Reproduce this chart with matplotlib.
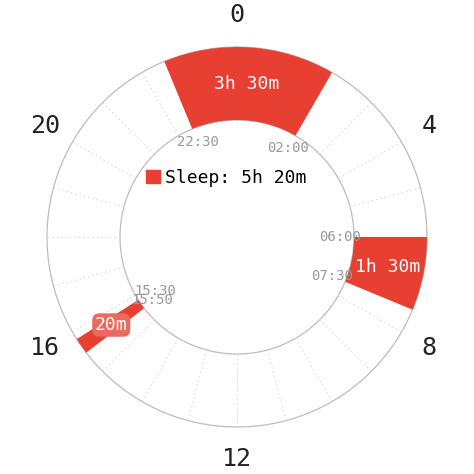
import numpy as np
import matplotlib
matplotlib.use("Agg")
import matplotlib.pyplot as plt
from matplotlib.patches import Patch

# sleep sessions (24h clock)
starts = ["22:30", "06:00", "15:30"]
ends = ["02:00", "07:30", "15:50"]
hour_ticks = [0, 4, 8, 12, 16, 20]
legend_name = "Sleep"

RED = "#e74032"
MONO = "DejaVu Sans Mono"
R_IN, R_OUT, R_LAB, R_TIME = 117, 190, 222, 103


def to_min(s):
    h, m = s.split(":")
    return int(h) * 60 + int(m)


def fmt_dur(m):
    h, mm = divmod(m, 60)
    return f"{h}h {mm}m" if h else f"{mm}m"


def ang(minutes):
    return np.deg2rad(minutes / 1440 * 360)


fig = plt.figure(figsize=(4.74, 4.74), dpi=100)
ax = fig.add_axes([0, 0, 1, 1], projection="polar")
ax.set_theta_zero_location("N")
ax.set_theta_direction(-1)
ax.set_ylim(0, 237)
ax.grid(False)
ax.set_xticks([])
ax.set_yticks([])
ax.spines["polar"].set_visible(False)

# ring outlines and hourly dotted guides
th = np.linspace(0, 2 * np.pi, 400)
ax.plot(th, np.full_like(th, R_OUT), color="#bdbdbd", lw=0.9)
ax.plot(th, np.full_like(th, R_IN), color="#bdbdbd", lw=0.9)
for h in range(24):
    t = ang(h * 60)
    ax.plot([t, t], [R_IN, R_OUT], color="#dcdcdc", lw=0.8, ls=(0, (1.5, 2.5)))

for h in hour_ticks:
    ax.text(ang(h * 60), R_LAB, str(h), ha="center", va="center",
            fontsize=18, family=MONO, color="#222222")

time_kw = dict(ha="center", va="center", fontsize=10, family=MONO,
               color="#999999", zorder=4, textcoords="offset points")

total = 0
for s, e in zip(starts, ends):
    a, b = to_min(s), to_min(e)
    dur = (b - a) % 1440
    total += dur
    t0 = ang(a)
    w = ang(dur)
    mid = t0 + w / 2
    ax.bar(mid, R_OUT - R_IN, width=w, bottom=R_IN, color=RED,
           edgecolor="none", zorder=3)
    if dur < 60:
        ax.text(mid, (R_IN + R_OUT) / 2, fmt_dur(dur), ha="center", va="center",
                fontsize=13, family=MONO, color="white", zorder=5,
                bbox=dict(boxstyle="round,pad=0.15,rounding_size=0.4",
                          fc="#ea6a5e", ec="none"))
        # short session: stack the two times around the middle
        ax.annotate(s, (mid, R_TIME), xytext=(2, 3.5), **time_kw)
        ax.annotate(e, (mid, R_TIME), xytext=(-0.5, -3), **time_kw)
    else:
        ax.text(mid, (R_IN + R_OUT) / 2, fmt_dur(dur), ha="center", va="center",
                fontsize=13, family=MONO, color="white", zorder=5)
        ax.annotate(s, (t0, R_TIME), xytext=(0, 0), **time_kw)
        ax.annotate(e, (ang(b), R_TIME), xytext=(0, 0), **time_kw)

ax.legend(handles=[Patch(color=RED, label=f"{legend_name}: {fmt_dur(total)}")],
          loc="center", bbox_to_anchor=(0.478, 0.6245), frameon=False,
          handlelength=0.75, handleheight=0.75, handletextpad=0.3,
          prop={"family": MONO, "size": 13})

fig.savefig("out.png", dpi=100)
